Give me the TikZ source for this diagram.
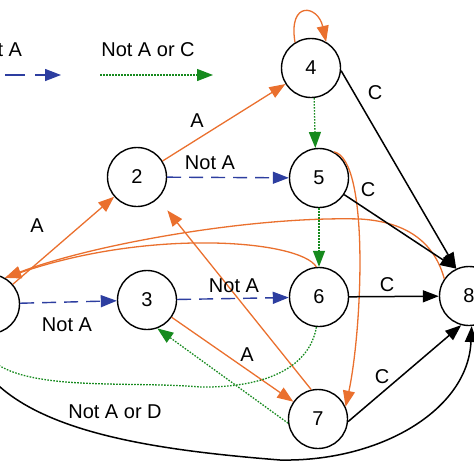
\documentclass[tikz,border=0pt]{standalone}
\usepackage{fontspec}
\setmainfont{Liberation Sans}
\usetikzlibrary{arrows.meta}
\definecolor{eorange}{RGB}{234,112,46}
\definecolor{eblue}{RGB}{45,62,160}
\definecolor{egreen}{RGB}{22,138,30}
\begin{document}
\begin{tikzpicture}[x=1pt,y=1pt,
  state/.style={circle,draw,line width=1.4pt,minimum size=59pt,inner sep=0pt,font=\fontsize{20}{24}\selectfont},
  lbl/.style={font=\fontsize{20}{24}\selectfont,inner sep=0pt},
  tipa/.style={-{Triangle[length=16pt,width=12pt]}},
  oedge/.style={draw=eorange,line width=1.3pt,tipa},
  bedge/.style={draw=eblue,line width=1.4pt,dash pattern=on 14pt off 8pt,tipa},
  gedge/.style={draw=egreen,line width=1.3pt,dash pattern=on 1.6pt off 1.4pt,tipa},
  kedge/.style={draw=black,line width=1.5pt,tipa}]
\useasboundingbox (0,0) rectangle (474,-474);
\clip (0,0) rectangle (474,-474);

% legend
\node[lbl] (legA) at (-3,-50) {Not A};
\node[lbl] (legC) at (148,-50) {Not A or C};
\coordinate (la1) at (-25,-75);
\coordinate (la2) at (61,-75);
\coordinate (lc1) at (100,-75);
\coordinate (lc2) at (213,-75);
\draw[bedge,dash pattern=on 20pt off 10pt] (la1) -- (la2);
\draw[gedge] (lc1) -- (lc2);

% states
\node[state] (n1) at (-10,-304) {1};
\node[state] (n2) at (137,-177) {2};
\node[state] (n3) at (147,-300) {3};
\node[state] (n4) at (311,-68) {4};
\node[state] (n5) at (319,-178) {5};
\node[state] (n6) at (319,-297) {6};
\node[state] (n7) at (318,-419) {7};
\node[state] (n8) at (469,-296) {8};

% orange edges
\draw[oedge] (n1) -- (n2);
\draw[oedge] (n2) -- (n4);
\draw[oedge] (n4.122) .. controls (288,0) and (318,-5) .. (n4.60);
\draw[oedge] (n3.-35) -- (n7.145);
\draw[oedge,shorten >=15pt] (n7.103) -- (n2.-46);
\draw[oedge] (n5.60) .. controls (370,-160) and (362,-330) .. (n7.24);
\draw[oedge] (n6.95) .. controls (300,-240) and (150,-228) .. (n1.60);
\draw[oedge] (n8.145) .. controls (435,-245) and (410,-222) .. (360,-219)
  .. controls (250,-216) and (90,-245) .. (n1.60);

% blue dashed edges
\draw[bedge] (n2) -- (n5);
\draw[bedge] (n1) -- (n3);
\draw[bedge] (n3) -- (n6);

% green dotted edges
\draw[gedge] (n4.-84) -- (n5.97);
\draw[gedge] (n5) -- (n6);
\draw[gedge] (n7.188) -- (n3.-70);
\draw[gedge] (n6.-95) .. controls (310,-365) and (270,-388) .. (200,-387)
  .. controls (120,-380) and (0,-395) .. (n1.-120);

% black edges
\draw[kedge] (n4.-5) -- (n8.115);
\draw[kedge] (n5) -- (n8.115);
\draw[kedge] (n6) -- (n8);
\draw[kedge] (n7.-5) -- (n8.-105);
\draw[kedge] (n1.-150) .. controls (-25,-425) and (130,-448) .. (280,-460)
  .. controls (380,-462) and (468,-410) .. (n8.-85);

% labels
\node[lbl] (tA12) at (37,-226) {A};
\node[lbl] (tA24) at (197,-121) {A};
\node[lbl] (tN25) at (210,-163) {Not A};
\node[lbl] (tC48) at (375,-93) {C};
\node[lbl] (tC58) at (368,-190) {C};
\node[lbl] (tN13) at (67,-325) {Not A};
\node[lbl] (tN36) at (234,-286) {Not A};
\node[lbl] (tC68) at (387,-285) {C};
\node[lbl] (tA37) at (247,-355) {A};
\node[lbl] (tC78) at (382,-377) {C};
\node[lbl] (tNAD) at (115,-412) {Not A or D};
\end{tikzpicture}
\end{document}
